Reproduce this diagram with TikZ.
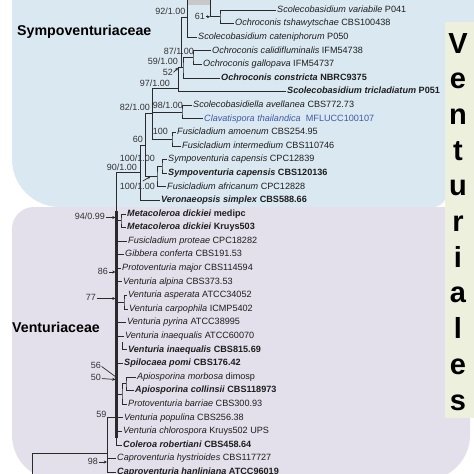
\documentclass[tikz,border=0pt]{standalone}
\usepackage{fontspec}
\setmainfont{Liberation Sans}
\usetikzlibrary{arrows.meta}
\definecolor{bluebg}{HTML}{DAE8F1}
\definecolor{purplebg}{HTML}{E3DFEB}
\definecolor{beigebg}{HTML}{EEF0DE}
\definecolor{topgrey}{HTML}{C8C8C8}
\definecolor{linec}{HTML}{2A2A2A}
\definecolor{tipc}{HTML}{1E1E1E}
\definecolor{supc}{HTML}{333333}
\definecolor{clav}{HTML}{3F5AA6}
\newcommand{\tipI}[2]{\textit{#1} #2}
\newcommand{\tipB}[2]{\textbf{\textit{#1} #2}}
\begin{document}
\begin{tikzpicture}[x=1pt,y=-1pt,
  br/.style={draw=linec,line width=0.75pt},
  tip/.style={anchor=west,inner xsep=1.2pt,inner ysep=0pt,text height=6.6pt,text depth=1.9pt,font=\fontsize{9.1}{10}\selectfont,text=tipc},
  sup/.style={anchor=east,inner sep=0pt,text height=6.3pt,text depth=1.6pt,font=\fontsize{9}{10}\selectfont,text=supc},
  arr/.style={draw=linec,line width=0.7pt,shorten <=0.8pt,-{Stealth[length=3.2pt,width=3pt]}},
  fam/.style={anchor=west,inner sep=0pt,font=\fontsize{14.2}{16}\selectfont\bfseries},
  vl/.style={anchor=base,inner sep=0pt,font=\fontsize{29}{30}\selectfont\bfseries}]
\useasboundingbox (0,0) rectangle (474,474);
\fill[white] (0,0) rectangle (474,474);
% backgrounds
\fill[bluebg] (12,0) -- (474,0) -- (474,22) -- (447,22) -- (447,193) arc (0:90:14) -- (60,207) arc (90:180:48) -- cycle;
\fill[purplebg] (12,229) arc (180:270:22) -- (470,207) -- (470,435) arc (0:90:45) -- (57,480) arc (90:180:45) -- cycle;
\fill[beigebg] (445,22) rectangle (474,418);
\fill[topgrey] (188,0) rectangle (210,4.5);
% family labels
\node[fam] (sym) at (17,32) {Sympoventuriaceae};
\node[fam] (ven) at (12,327) {Venturiaceae};
% Venturiales
\node[vl] (L1) at (458,53) {V};
\node[vl] (L2) at (458,88.7) {e};
\node[vl] (L3) at (458,124.4) {n};
\node[vl] (L4) at (458,160.1) {t};
\node[vl] (L5) at (458,195.8) {u};
\node[vl] (L6) at (458,231.5) {r};
\node[vl] (L7) at (458,267.2) {i};
\node[vl] (L8) at (458,302.9) {a};
\node[vl] (L9) at (458,338.6) {l};
\node[vl] (L10) at (458,374.3) {e};
\node[vl] (L11) at (458,410) {s};
% tips
\node[tip] (t1) at (275.8,10.0) {\tipI{Scolecobasidium variabile}{P041}};
\node[tip] (t2) at (233.8,23.6) {\tipI{Ochroconis tshawytschae}{CBS100438}};
\node[tip] (t3) at (196.8,37.2) {\tipI{Scolecobasidium cateniphorum}{P050}};
\node[tip] (t4) at (210.8,50.8) {\tipI{Ochroconis calidifluminalis}{IFM54738}};
\node[tip] (t5) at (201.8,64.4) {\tipI{Ochroconis gallopava}{IFM54737}};
\node[tip] (t6) at (219.8,78.0) {\tipB{Ochroconis constricta}{NBRC9375}};
\node[tip] (t7) at (285.8,91.5) {\tipB{Scolecobasidium tricladiatum}{P051}};
\node[tip] (t8) at (191.8,105.1) {\tipI{Scolecobasidiella avellanea}{CBS772.73}};
\node[tip,text=clav] (t9) at (202.8,118.7) {\tipI{Clavatispora thailandica}{\ MFLUCC100107}};
\node[tip] (t10) at (175.8,132.3) {\tipI{Fusicladium amoenum}{CBS254.95}};
\node[tip] (t11) at (180.8,145.9) {\tipI{Fusicladium intermedium}{CBS110746}};
\node[tip] (t12) at (166.8,159.5) {\tipI{Sympoventuria capensis}{CPC12839}};
\node[tip] (t13) at (166.8,173.1) {\tipB{Sympoventuria capensis}{CBS120136}};
\node[tip] (t14) at (165.8,186.7) {\tipI{Fusicladium africanum}{CPC12828}};
\node[tip] (t15) at (159.8,200.3) {\tipB{Veronaeopsis simplex}{CBS588.66}};
\node[tip] (t16) at (125.8,213.9) {\tipB{Metacoleroa dickiei}{medipc}};
\node[tip] (t17) at (125.8,227.4) {\tipB{Metacoleroa dickiei}{Kruys503}};
\node[tip] (t18) at (126.8,241.0) {\tipI{Fusicladium proteae}{CPC18282}};
\node[tip] (t19) at (123.8,254.6) {\tipI{Gibbera conferta}{CBS191.53}};
\node[tip] (t20) at (120.8,268.2) {\tipI{Protoventuria major}{CBS114594}};
\node[tip] (t21) at (121.8,281.8) {\tipI{Venturia alpina}{CBS373.53}};
\node[tip] (t22) at (126.8,295.4) {\tipI{Venturia asperata}{ATCC34052}};
\node[tip] (t23) at (127.8,309.0) {\tipI{Venturia carpophila}{ICMP5402}};
\node[tip] (t24) at (125.8,322.6) {\tipI{Venturia pyrina}{ATCC38995}};
\node[tip] (t25) at (123.8,336.2) {\tipI{Venturia inaequalis}{ATCC60070}};
\node[tip] (t26) at (126.8,349.8) {\tipB{Venturia inaequalis}{CBS815.69}};
\node[tip] (t27) at (122.8,363.4) {\tipB{Spilocaea pomi}{CBS176.42}};
\node[tip] (t28) at (135.8,376.9) {\tipI{Apiosporina morbosa}{dimosp}};
\node[tip] (t29) at (133.8,390.5) {\tipB{Apiosporina collinsii}{CBS118973}};
\node[tip] (t30) at (126.8,404.1) {\tipI{Protoventuria barriae}{CBS300.93}};
\node[tip] (t31) at (122.8,417.7) {\tipI{Venturia populina}{CBS256.38}};
\node[tip] (t32) at (121.8,431.3) {\tipI{Venturia chlorospora}{Kruys502 UPS}};
\node[tip] (t33) at (121.8,444.9) {\tipB{Coleroa robertiani}{CBS458.64}};
\node[tip] (t34) at (115.8,458.5) {\tipI{Caproventuria hystrioides}{CBS117727}};
\node[tip] (t35) at (115.8,472.1) {\tipB{Caproventuria hanliniana}{ATCC96019}};
% ---- Sympoventuriaceae branches
\coordinate (n61) at (220,16.8);
\coordinate (a61) at (210,16.8);
\coordinate (top210) at (210,0);
\coordinate (top187) at (187,0);
\coordinate (j187) at (187,17);
\coordinate (n92) at (181,17);
\coordinate (n92b) at (181,67.8);
\coordinate (n59) at (178,67.8);
\coordinate (n59b) at (178,88);
\coordinate (n87) at (193,57.6);
\coordinate (nD) at (183,67.8);
\draw[br] (t1.west) -| (n61) |- (t2.west);
\draw[br] (top210) -- (a61) -- (n61);
\draw[br] (top187) |- (t3.west);
\draw[br] (t4.west) -| (n87) |- (t5.west);
\draw[br] (n87) -| (nD) |- (t6.west);
\draw[br] (j187) -- (n92) -- (n92b) -- (nD);
\draw[br] (n92b) -- (n59) |- (t7.west);
\coordinate (n97top) at (152,88);
\coordinate (n97s) at (152,111.9);
\coordinate (n97m) at (152,113.5);
\coordinate (n97bot) at (152,139.1);
\coordinate (n98) at (182,111.9);
\coordinate (n100) at (172,139.1);
\draw[br] (n97top) -- (n59b);
\draw[br] (t8.west) -| (n98) |- (t9.west);
\draw[br] (t10.west) -| (n100) |- (t11.west);
\draw[br] (n97top) -- (n97bot) -- (n100);
\draw[br] (n97s) -- (n98);
\coordinate (n82top) at (145,113.5);
\coordinate (n82m) at (145,145);
\coordinate (n82bot) at (145,176.5);
\coordinate (S1) at (162,166.3);
\coordinate (S2) at (157,176.5);
\draw[br] (n97m) -- (n82top) -- (n82bot) -- (S2);
\draw[br] (t12.west) -| (S1) |- (t13.west);
\draw[br] (S1) -| (S2) |- (t14.west);
\coordinate (n60) at (140,145);
\coordinate (n60s) at (140,172.6);
\coordinate (n90) at (116,172.6);
\coordinate (n90b) at (116,417.7);
\draw[br] (n82m) -- (n60) |- (t15.west);
\draw[br] (n60s) -- (n90) -- (n90b);
% ---- Venturiaceae branches
\coordinate (vb0) at (116.5,211);
\coordinate (vb1) at (116.5,438);
\draw[linec,line width=2.4pt] (vb0) -- (vb1);
\coordinate (bm) at (117,220.6);
\coordinate (nm) at (121,220.6);
\draw[br] (t16.west) -| (nm) |- (t17.west);
\draw[br] (bm) -- (nm);
\coordinate (b18) at (117,241.0);
\coordinate (b19) at (117,254.6);
\coordinate (b20) at (117,268.2);
\coordinate (b21) at (117,281.8);
\draw[br] (b18) -- (t18.west);
\draw[br] (b19) -- (t19.west);
\draw[br] (b20) -- (t20.west);
\draw[br] (b21) -- (t21.west);
\coordinate (b77) at (117,302.2);
\coordinate (n77) at (124,302.2);
\draw[br] (t22.west) -| (n77) |- (t23.west);
\draw[br] (b77) -- (n77);
\coordinate (b24) at (117,322.6);
\coordinate (b25) at (117,336.2);
\coordinate (b26) at (122,342);
\coordinate (b27) at (117,363.4);
\draw[br] (b24) -- (t24.west);
\draw[br] (b25) -- (t25.west);
\draw[br] (b26) |- (t26.west);
\draw[br] (b27) -- (t27.west);
\coordinate (nA) at (126,383.7);
\coordinate (nB) at (122,393.9);
\coordinate (bB) at (117,393.9);
\draw[br] (t28.west) -| (nA) |- (t29.west);
\draw[br] (nA) -| (nB) |- (t30.west);
\draw[br] (bB) -- (nB);
\coordinate (b31) at (117,417.7);
\coordinate (b32) at (117,431.3);
\coordinate (n33) at (116.5,430);
\draw[br] (b31) -- (t31.west);
\draw[br] (b32) -- (t32.west);
\draw[br] (n33) |- (t33.west);
\coordinate (n59v) at (107,417.7);
\coordinate (c34) at (107,458.5);
\coordinate (r1) at (107,453);
\coordinate (r0) at (32,453);
\coordinate (r00) at (32,474);
\draw[br] (n90b) -- (n59v) |- (t35.west);
\draw[br] (c34) -- (t34.west);
\draw[br] (r1) -- (r0) -- (r00);
% ---- support labels
\node[sup] (l61) at (205,16.8) {61};
\draw[arr] (l61.east) -- (a61);
\node[sup] (l92) at (185.5,12) {92/1.00};
\node[sup] (l87) at (194,52.5) {87/1.00};
\node[sup] (l59a) at (178,62) {59/1.00};
\node[sup] (l52) at (173,73) {52};
\draw[arr] (l52.east) -- (n59);
\node[sup] (l97) at (170,84.5) {97/1.00};
\node[sup] (l82) at (150,108) {82/1.00};
\node[sup] (l98a) at (183,106.5) {98/1.00};
\node[sup] (l100) at (168,132) {100};
\node[sup] (l60) at (143,140) {60};
\node[sup] (l100u) at (155,159.5) {100/1.00};
\node[sup] (l90) at (137,168) {90/1.00};
\node[sup] (l100l) at (155,187) {100/1.00};
\coordinate (as18) at (142,181.5);
\coordinate (S2st) at (150.5,176.5);
\draw[arr] (as18) -- (S2st);
\coordinate (bar217) at (115.5,217.5);
\coordinate (bar272) at (115.5,272);
\coordinate (bar298) at (115.5,298.5);
\coordinate (bar378) at (118,378.5);
\coordinate (bar379) at (115.5,379.5);
\coordinate (bar462) at (107,462);
\node[sup] (l94) at (105,217.5) {94/0.99};
\draw[arr] (l94.east) -- (bar217);
\node[sup] (l86) at (108,272) {86};
\draw[arr] (l86.east) -- (bar272);
\node[sup] (l77) at (96,298.5) {77};
\draw[arr] (l77.east) -- (bar298);
\node[sup] (l56) at (101,366) {56};
\draw[arr] (l56.east) -- (bar378);
\node[sup] (l50) at (101,378.5) {50};
\draw[arr] (l50.east) -- (bar379);
\node[sup] (l59b) at (106.5,415.5) {59};
\node[sup] (l98b) at (98,462) {98};
\draw[arr] (l98b.east) -- (bar462);
\end{tikzpicture}
\end{document}
